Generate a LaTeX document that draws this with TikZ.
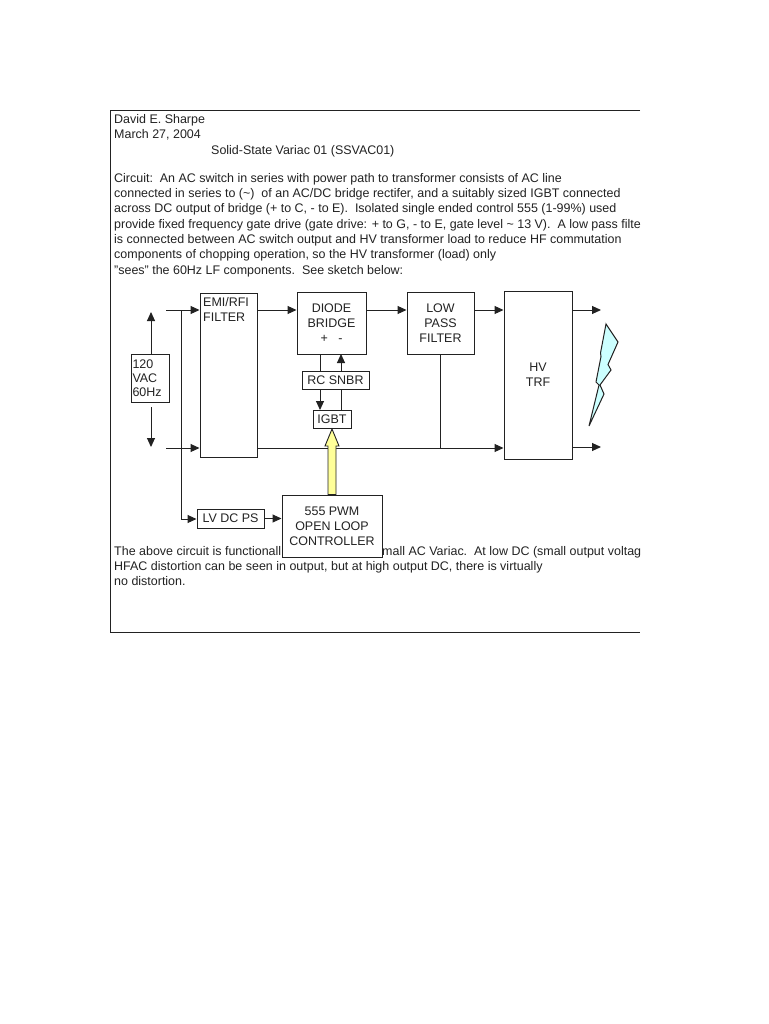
\documentclass[tikz,border=0pt]{standalone}
\usepackage{fontspec}
\setmainfont{Liberation Sans}
\usetikzlibrary{arrows.meta}
\definecolor{ink}{HTML}{222222}
\definecolor{paleyellow}{HTML}{FFFF99}
\definecolor{palecyan}{HTML}{CCFFFF}
\tikzset{
  txt/.style={anchor=base west,inner sep=0pt,text=ink,font=\fontsize{12.47}{15}\selectfont},
  blk/.style={draw=ink,line width=1pt,fill=white,inner sep=0pt,text=ink,align=center,font=\fontsize{12.47}{15}\selectfont},
  lin/.style={draw=ink,line width=1pt},
  arr/.style={lin,-{Triangle[length=9pt,width=8pt]}},
  boxat/.style args={#1/#2/#3/#4}{at={({(#1+#3)/2},{(#2+#4)/2})},minimum width={(#3-#1)*1pt},minimum height={(#4-#2)*1pt}}
}
\begin{document}
\begin{tikzpicture}[x=1pt,y=-1pt]
\useasboundingbox[fill=white] (0,0) rectangle (768,1024);
% frame
\coordinate (ftr) at (640,110.5);
\coordinate (ftl) at (110,110.5);
\coordinate (fbl) at (110,632.5);
\coordinate (fbr) at (640,632.5);
\draw[lin] (ftr) -- (ftl) -- (fbl) -- (fbr);
% text
\node[txt] (t1) at (114,123.5) {David E. Sharpe};
\node[txt] (t2) at (114,138.5) {March 27, 2004};
\node[txt] (t3) at (211,154.5) {Solid-State Variac 01 (SSVAC01)};
\node[txt] (t4) at (114,182.5) {Circuit:\ \ An AC switch in series with power path to transformer consists of AC line};
\node[txt] (t5) at (114,198) {connected in series to (\textasciitilde)\ \ of an AC/DC bridge rectifer, and a suitably sized IGBT connected};
\node[txt] (t6) at (114,213) {across DC output of bridge (+ to C, - to E).\ \ Isolated single ended control 555 (1-99\%) used};
\node[txt] (t7) at (114,228.5) {provide fixed frequency gate drive (gate drive: + to G, - to E, gate level \textasciitilde\ 13 V).\ \ A low pass filte};
\node[txt] (t8) at (114,243.5) {is connected between AC switch output and HV transformer load to reduce HF commutation};
\node[txt] (t9) at (114,258.5) {components of chopping operation, so the HV transformer (load) only};
\node[txt] (t10) at (114,274) {"sees" the 60Hz LF components.\ \ See sketch below:};
\node[txt] (t11) at (114,555) {The above circuit is functionall};
\node[txt] (t12) at (382,555) {mall AC Variac.\ \ At low DC (small output voltag};
\node[txt] (t13) at (114,570) {HFAC distortion can be seen in output, but at high output DC, there is virtually};
\node[txt] (t14) at (114,585.5) {no distortion.};
% coordinates for free ends
\coordinate (inT) at (166,310);
\coordinate (inB) at (166,448);
\coordinate (jT) at (181,310);
\coordinate (jL) at (181,519);
\coordinate (upT) at (151,312);
\coordinate (dnS) at (151,407);
\coordinate (dnT) at (151,447);
\coordinate (outT) at (601,310);
\coordinate (outB) at (601,447);
% blocks
\node[blk,boxat=200/293/257/457] (emi) {};
\node[txt,anchor=north west,align=left] (emit) at (203,297.5) {EMI/RFI\\FILTER};
\node[blk,boxat=297/292/366/354] (diode) {DIODE\\BRIDGE\\+\ \ \ -};
\node[blk,boxat=407/292/474/354] (lpf) {LOW\\PASS\\FILTER};
\node[blk,boxat=504/291/572/459] (hv) {HV\\TRF};
\node[blk,boxat=131/354/169/402,align=left,text width=35pt,inner xsep=1.5pt] (vac) {120\\[-1pt]VAC\\[-1pt]60Hz};
% lines under the snubber
\coordinate (dg) at (320,354);
\coordinate (ig) at (320,410);
\coordinate (ie) at (341,410);
\coordinate (de) at (341,354);
\draw[arr] (dg) -- (ig);
\draw[arr] (ie) -- (de);
\node[blk,boxat=302/371/369/389] (rc) {RC SNBR};
\node[blk,boxat=313/410/351/428] (igbt) {IGBT};
\node[blk,boxat=197/509/264/528] (lv) {LV DC PS};
% connectors
\draw[arr] (inT) -- (emi.west |- inT);
\draw[arr] (inB) -- (emi.west |- inB);
\draw[lin] (jT) -- (jL);
\draw[arr] (jL) -- (lv.west |- jL);
\draw[arr] (vac.north -| upT) -- (upT);
\draw[arr] (dnS) -- (dnT);
\draw[arr] (emi.east |- inT) -- (diode.west |- inT);
\draw[arr] (diode.east |- inT) -- (lpf.west |- inT);
\draw[arr] (lpf.east |- inT) -- (hv.west |- inT);
\draw[arr] (emi.east |- inB) -- (hv.west |- inB);
\coordinate (lpfj) at (440,448);
\draw[lin] (lpf.south -| lpfj) -- (lpfj);
\draw[arr] (hv.east |- outT) -- (outT);
\draw[arr] (hv.east |- outB) -- (outB);
% controller and its thick arrow
\node[blk,boxat=282/495/382/557] (pwm) {555 PWM\\OPEN LOOP\\CONTROLLER};
\draw[arr] (lv.east) -- (pwm.west |- lv.east);
\coordinate (ya) at (332,429);
\draw[draw=ink,line width=0.9pt,fill=paleyellow] (ya) -- (339,446) -- (336,446) -- (336,494.5) -- (328,494.5) -- (328,446) -- (325,446) -- cycle;
% lightning
\draw[draw=ink,line width=1pt,fill=palecyan,line join=miter] (606,324) -- (618,342) -- (608,364.5) -- (611,370) -- (600,385) -- (604,394) -- (589,426) -- (599,385) -- (596,382) -- (601,356.5) -- (600.5,353) -- cycle;
\end{tikzpicture}
\end{document}
